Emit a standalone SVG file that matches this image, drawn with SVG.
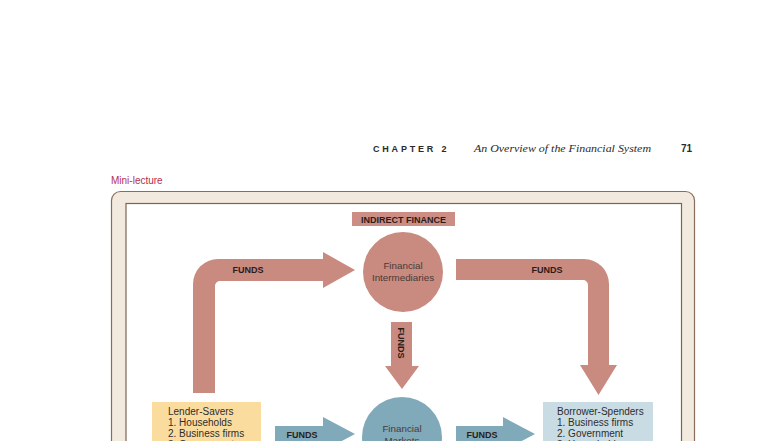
<svg xmlns="http://www.w3.org/2000/svg" width="784" height="441" viewBox="0 0 784 441">
<style>
.arrow{fill:#c98a80}
.blue{fill:#80a9b9}
.lbl{font-family:"Liberation Sans",Arial,sans-serif;font-weight:bold;font-size:9px;fill:#2b1c1a}
.node{font-family:"Liberation Sans",Arial,sans-serif;font-size:9.8px;fill:#4a3a36}
.box{font-family:"Liberation Sans",Arial,sans-serif;font-size:10px;fill:#2e2e2e}
</style>
<rect width="784" height="441" fill="#ffffff"/>
<g id="header">
<text x="373" y="152" font-family="Liberation Sans,Arial,sans-serif" font-weight="bold" font-size="9" fill="#2a2a2a" letter-spacing="2.8">CHAPTER 2</text>
<text x="474" y="152" font-family="Liberation Serif,Times New Roman,serif" font-style="italic" font-size="11" fill="#2a2a2a" textLength="177" lengthAdjust="spacingAndGlyphs">An Overview of the Financial System</text>
<text x="681" y="152" font-family="Liberation Sans,Arial,sans-serif" font-weight="bold" font-size="10" fill="#2a2a2a">71</text>
<text x="111" y="184" font-family="Liberation Sans,Arial,sans-serif" font-size="10" fill="#b4304c">Mini-lecture</text>
</g>
<g id="frame">
<rect x="111.5" y="191.5" width="583" height="290" rx="9" fill="#f2eade" stroke="#8c6c5c" stroke-width="1.2"/>
<rect x="126" y="203.5" width="555.5" height="270" fill="#ffffff" stroke="#7d6354" stroke-width="1.2"/>
</g>
<g id="connectors">
<path class="arrow" d="M193 393 L193 284 A25 25 0 0 1 218 259 L323 259 L323 252 L355 270 L323 288 L323 281 L220 281 A5 5 0 0 0 215 286 L215 393 Z"/>
<text class="lbl" x="248" y="273" text-anchor="middle">FUNDS</text>
<path class="arrow" d="M456 259 L584 259 A25 25 0 0 1 609 284 L609 365 L617 365 L598.5 395 L580 365 L588 365 L588 285 A5 5 0 0 0 583 280 L456 280 Z"/>
<text class="lbl" x="547" y="273" text-anchor="middle">FUNDS</text>
<path class="arrow" d="M391 322 L412 322 L412 366 L419 366 L402 389 L385 366 L391 366 Z"/>
<text class="lbl" transform="translate(401.5 343) rotate(90)" text-anchor="middle" dy="3.2">FUNDS</text>
<path class="blue" d="M275 426 L323 426 L323 417 L355 434 L323 451 L323 442 L275 442 Z"/>
<text class="lbl" x="302" y="438" text-anchor="middle">FUNDS</text>
<path class="blue" d="M456 426 L503 426 L503 417 L535 434 L503 451 L503 442 L456 442 Z"/>
<text class="lbl" x="482" y="438" text-anchor="middle">FUNDS</text>
</g>
<g id="indirect-finance">
<rect x="352" y="212" width="103" height="14" fill="#cb8d84"/>
<text class="lbl" x="403.5" y="222.5" text-anchor="middle">INDIRECT FINANCE</text>
</g>
<g id="financial-intermediaries">
<circle cx="403" cy="272" r="40" fill="#c98a80"/>
<text class="node" x="403" y="269" text-anchor="middle">Financial</text>
<text class="node" x="403" y="281" text-anchor="middle">Intermediaries</text>
</g>
<g id="financial-markets">
<circle cx="402" cy="437" r="40" fill="#80a9b9"/>
<text class="node" x="402" y="432" text-anchor="middle">Financial</text>
<text class="node" x="402" y="444" text-anchor="middle">Markets</text>
</g>
<g id="lender-savers">
<rect x="152" y="402" width="109" height="60" fill="#fbdc9f"/>
<text class="box" x="168" y="415">Lender-Savers</text>
<text class="box" x="168" y="426">1. Households</text>
<text class="box" x="168" y="437">2. Business firms</text>
<text class="box" x="168" y="448">3. Government</text>
</g>
<g id="borrower-spenders">
<rect x="543" y="402" width="110" height="60" fill="#c9dbe3"/>
<text class="box" x="557" y="415">Borrower-Spenders</text>
<text class="box" x="557" y="426">1. Business firms</text>
<text class="box" x="557" y="437">2. Government</text>
<text class="box" x="557" y="448">3. Households</text>
</g>
</svg>
